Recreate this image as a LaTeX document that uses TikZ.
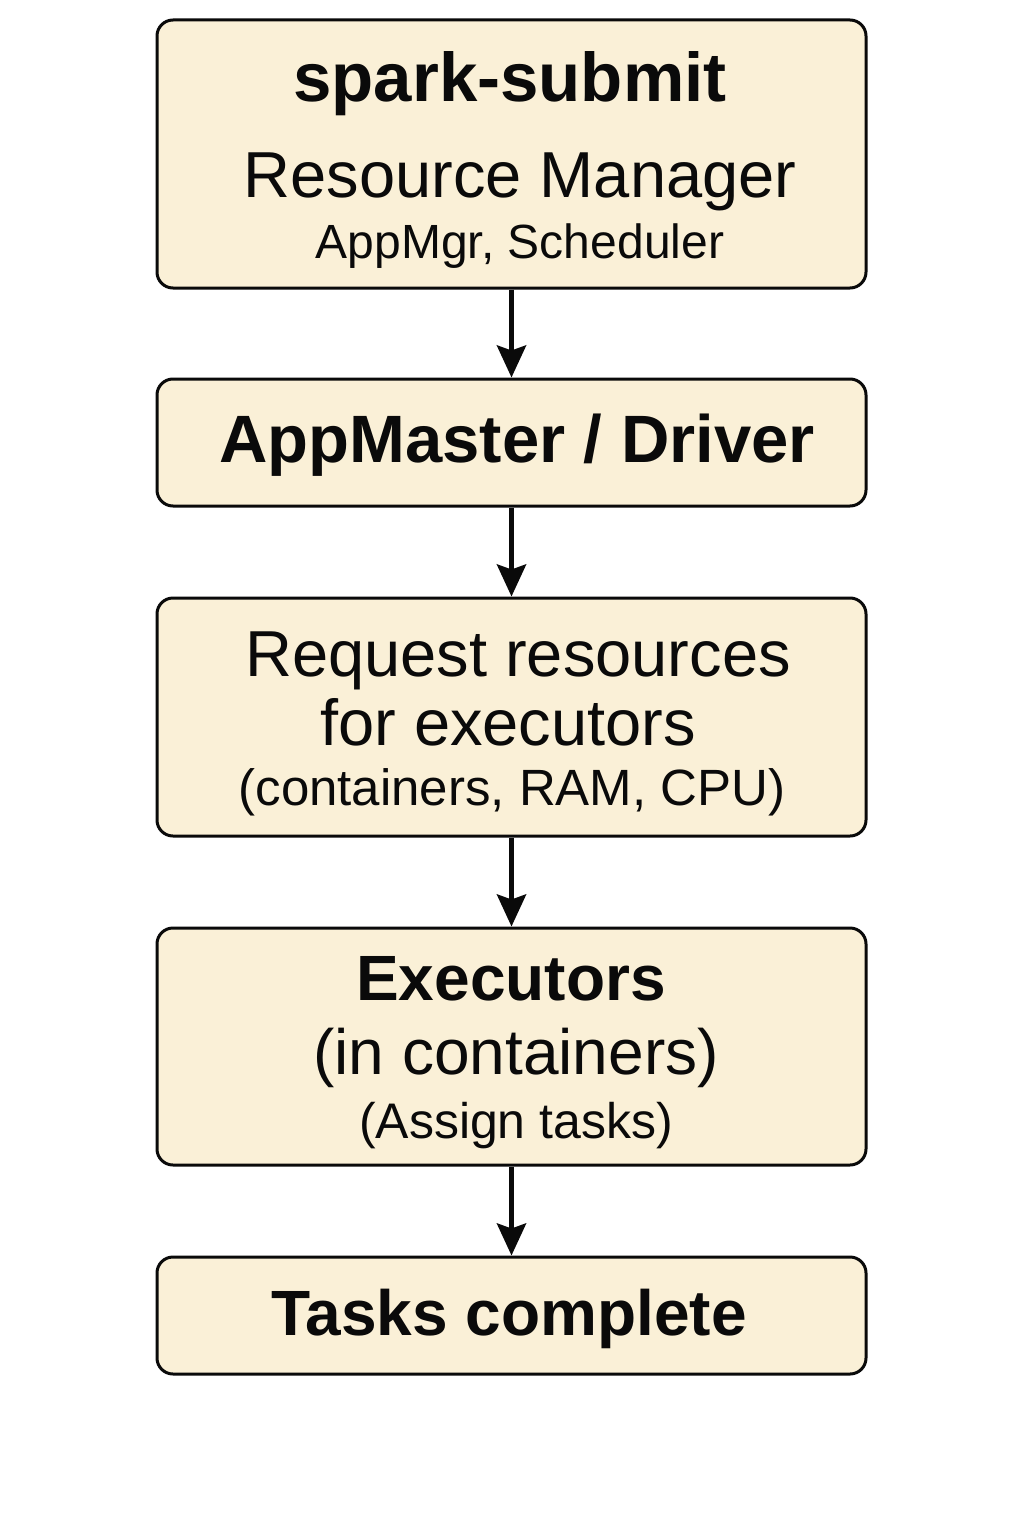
\documentclass[tikz,border=0pt]{standalone}
\usepackage{fontspec}
\setmainfont{Liberation Sans}
\usetikzlibrary{arrows.meta}
\definecolor{boxfill}{RGB}{250,240,215}
\definecolor{ink}{RGB}{10,10,10}
\begin{document}
\begin{tikzpicture}[x=1pt,y=-1pt,
  box/.style={draw=ink,fill=boxfill,line width=3pt,rounded corners=16pt,minimum width=709pt,inner sep=0pt},
  txt/.style={anchor=base,inner sep=0pt,text=ink},
  flow/.style={draw=ink,line width=5pt,-{Stealth[width=29pt,length=32pt,inset=5pt]}}]
\useasboundingbox (0,0) rectangle (1024,1536);
\fill[white] (0,0) rectangle (1024,1536);
\node[box,minimum height=268pt] (b1) at (511.5,154) {};
\node[box,minimum height=127pt] (b2) at (511.5,442.5) {};
\node[box,minimum height=238pt] (b3) at (511.5,717) {};
\node[box,minimum height=237pt] (b4) at (511.5,1046.5) {};
\node[box,minimum height=117pt] (b5) at (511.5,1315.5) {};
\node[txt,font=\fontsize{69}{70}\selectfont\bfseries] (t1) at (510,102) {spark-submit};
\node[txt,font=\fontsize{65}{70}\selectfont] (t2) at (520,197) {Resource Manager};
\node[txt,font=\fontsize{48}{50}\selectfont] (t3) at (520,258) {AppMgr, Scheduler};
\node[txt,font=\fontsize{67}{70}\selectfont\bfseries] (t4) at (517,462) {AppMaster / Driver};
\node[txt,font=\fontsize{65}{70}\selectfont] (t5) at (518,676) {Request resources};
\node[txt,font=\fontsize{65}{70}\selectfont] (t6) at (508,745) {for executors};
\node[txt,font=\fontsize{51}{55}\selectfont] (t7) at (512,805) {(containers, RAM, CPU)};
\node[txt,font=\fontsize{64}{70}\selectfont\bfseries] (t8) at (511,1000) {Executors};
\node[txt,font=\fontsize{64}{70}\selectfont] (t9) at (516,1074) {(in containers)};
\node[txt,font=\fontsize{50}{55}\selectfont] (t10) at (516,1138) {(Assign tasks)};
\node[txt,font=\fontsize{64}{70}\selectfont\bfseries] (t11) at (509,1335) {Tasks complete};
\draw[flow] (b1.south) -- (b2.north);
\draw[flow] (b2.south) -- (b3.north);
\draw[flow] (b3.south) -- (b4.north);
\draw[flow] (b4.south) -- (b5.north);
\end{tikzpicture}
\end{document}
